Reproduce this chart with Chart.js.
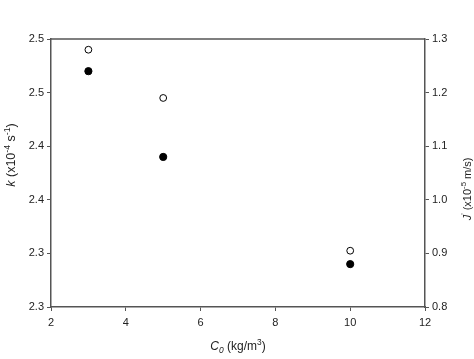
<!DOCTYPE html>
<html><head><meta charset="utf-8">
<script src="https://cdn.jsdelivr.net/npm/chart.js@4/dist/chart.umd.min.js"></script>
<style>html,body{margin:0;padding:0;background:#fff}#wrap{width:474px;height:359px}</style>
</head><body><div id="wrap"><canvas id="c" width="474" height="359"></canvas></div>
<script>
const concentrations = [3, 5, 10];
const kValues = [2.52, 2.44, 2.34];       // filled circles, left axis (x10^-4 s^-1)
const jValues = [1.28, 1.19, 0.905];      // open circles, right axis (x10^-5 m/s)
const xTicks = [2, 4, 6, 8, 10, 12];
const leftTickLabels = ['2.3', '2.3', '2.4', '2.4', '2.5', '2.5'];
const rightTickLabels = ['0.8', '0.9', '1.0', '1.1', '1.2', '1.3'];
const xTitle = [{t:'C', i:true}, {t:'0', i:true, sub:true}, {t:' (kg/m'}, {t:'3', sup:true}, {t:')'}];
const leftTitle = [{t:'k', i:true}, {t:' (x10'}, {t:'-4', sup:true}, {t:' s'}, {t:'-1', sup:true}, {t:')'}];
const rightTitle = [{t:'J', i:true}, {t:"'", sup:true}, {t:' (x10'}, {t:'-5', sup:true}, {t:' m/s)'}];

const FONT = 'Liberation Sans, Arial, sans-serif';
const AX = '#555';

function richWidth(ctx, segs, size) {
  let w = 0;
  for (const s of segs) {
    const sz = (s.sup || s.sub) ? size * 0.7 : size;
    ctx.font = (s.i ? 'italic ' : '') + sz + 'px ' + FONT;
    w += ctx.measureText(s.t).width;
  }
  return w;
}
function drawRich(ctx, segs, cx, cy, rot, size) {
  ctx.save();
  ctx.translate(cx, cy);
  ctx.rotate(rot);
  ctx.fillStyle = '#222';
  ctx.textBaseline = 'middle';
  ctx.textAlign = 'left';
  let x = -richWidth(ctx, segs, size) / 2;
  for (const s of segs) {
    const sz = (s.sup || s.sub) ? size * 0.7 : size;
    ctx.font = (s.i ? 'italic ' : '') + sz + 'px ' + FONT;
    const dy = s.sup ? -size * 0.35 : (s.sub ? size * 0.3 : 0);
    ctx.fillText(s.t, x, dy);
    x += ctx.measureText(s.t).width;
  }
  ctx.restore();
}

const framePlugin = {
  id: 'frame',
  afterDraw(chart) {
    const {ctx, chartArea: a} = chart;
    ctx.save();
    ctx.strokeStyle = AX;
    ctx.lineWidth = 1.5;
    ctx.beginPath();
    ctx.moveTo(a.left, a.top);
    ctx.lineTo(a.right, a.top);
    ctx.stroke();
    ctx.restore();
    drawRich(ctx, xTitle, (a.left + a.right) / 2, 347, 0, 12);
    drawRich(ctx, leftTitle, 12, 155, -Math.PI / 2, 12.5);
    drawRich(ctx, rightTitle, 468, 189, -Math.PI / 2, 11);
  }
};

new Chart(document.getElementById('c'), {
  type: 'scatter',
  data: {
    datasets: [
      {
        label: 'k',
        data: concentrations.map((x, i) => ({x, y: kValues[i]})),
        yAxisID: 'y',
        pointRadius: 3.6,
        pointBackgroundColor: '#000',
        pointBorderColor: '#000',
        pointBorderWidth: 1
      },
      {
        label: 'J',
        data: concentrations.map((x, i) => ({x, y: jValues[i]})),
        yAxisID: 'y1',
        pointRadius: 3.4,
        pointBackgroundColor: '#fff',
        pointBorderColor: '#000',
        pointBorderWidth: 1
      }
    ]
  },
  options: {
    responsive: false,
    animation: false,
    layout: {padding: {top: 39, left: 0, right: 0, bottom: 0}},
    plugins: {legend: {display: false}, tooltip: {enabled: false}},
    scales: {
      x: {
        type: 'linear', position: 'bottom', min: 2, max: 12,
        afterFit(s) { s.height = 52; },
        afterBuildTicks(s) { s.ticks = xTicks.map(v => ({value: v})); },
        border: {color: AX, width: 1.5},
        grid: {drawOnChartArea: false, drawTicks: true, tickLength: 4, color: AX},
        ticks: {color: '#222', font: {family: FONT, size: 11}, padding: 5, maxRotation: 0}
      },
      y: {
        type: 'linear', position: 'left', min: 2.30, max: 2.55,
        afterFit(s) { s.width = 51; },
        afterBuildTicks(s) { s.ticks = leftTickLabels.map((_, i) => ({value: 2.30 + i * 0.05})); },
        border: {color: AX, width: 1.5},
        grid: {drawOnChartArea: false, drawTicks: true, tickLength: 4, color: AX},
        ticks: {color: '#222', font: {family: FONT, size: 11}, padding: 3,
          callback: (v, i) => leftTickLabels[i]}
      },
      y1: {
        type: 'linear', position: 'right', min: 0.8, max: 1.3,
        afterFit(s) { s.width = 49; },
        afterBuildTicks(s) { s.ticks = rightTickLabels.map(v => ({value: parseFloat(v)})); },
        border: {color: AX, width: 1.5},
        grid: {drawOnChartArea: false, drawTicks: true, tickLength: 4, color: AX},
        ticks: {color: '#222', font: {family: FONT, size: 11}, padding: 3,
          callback: (v, i) => rightTickLabels[i]}
      }
    }
  },
  plugins: [framePlugin]
});
</script>
</body></html>
